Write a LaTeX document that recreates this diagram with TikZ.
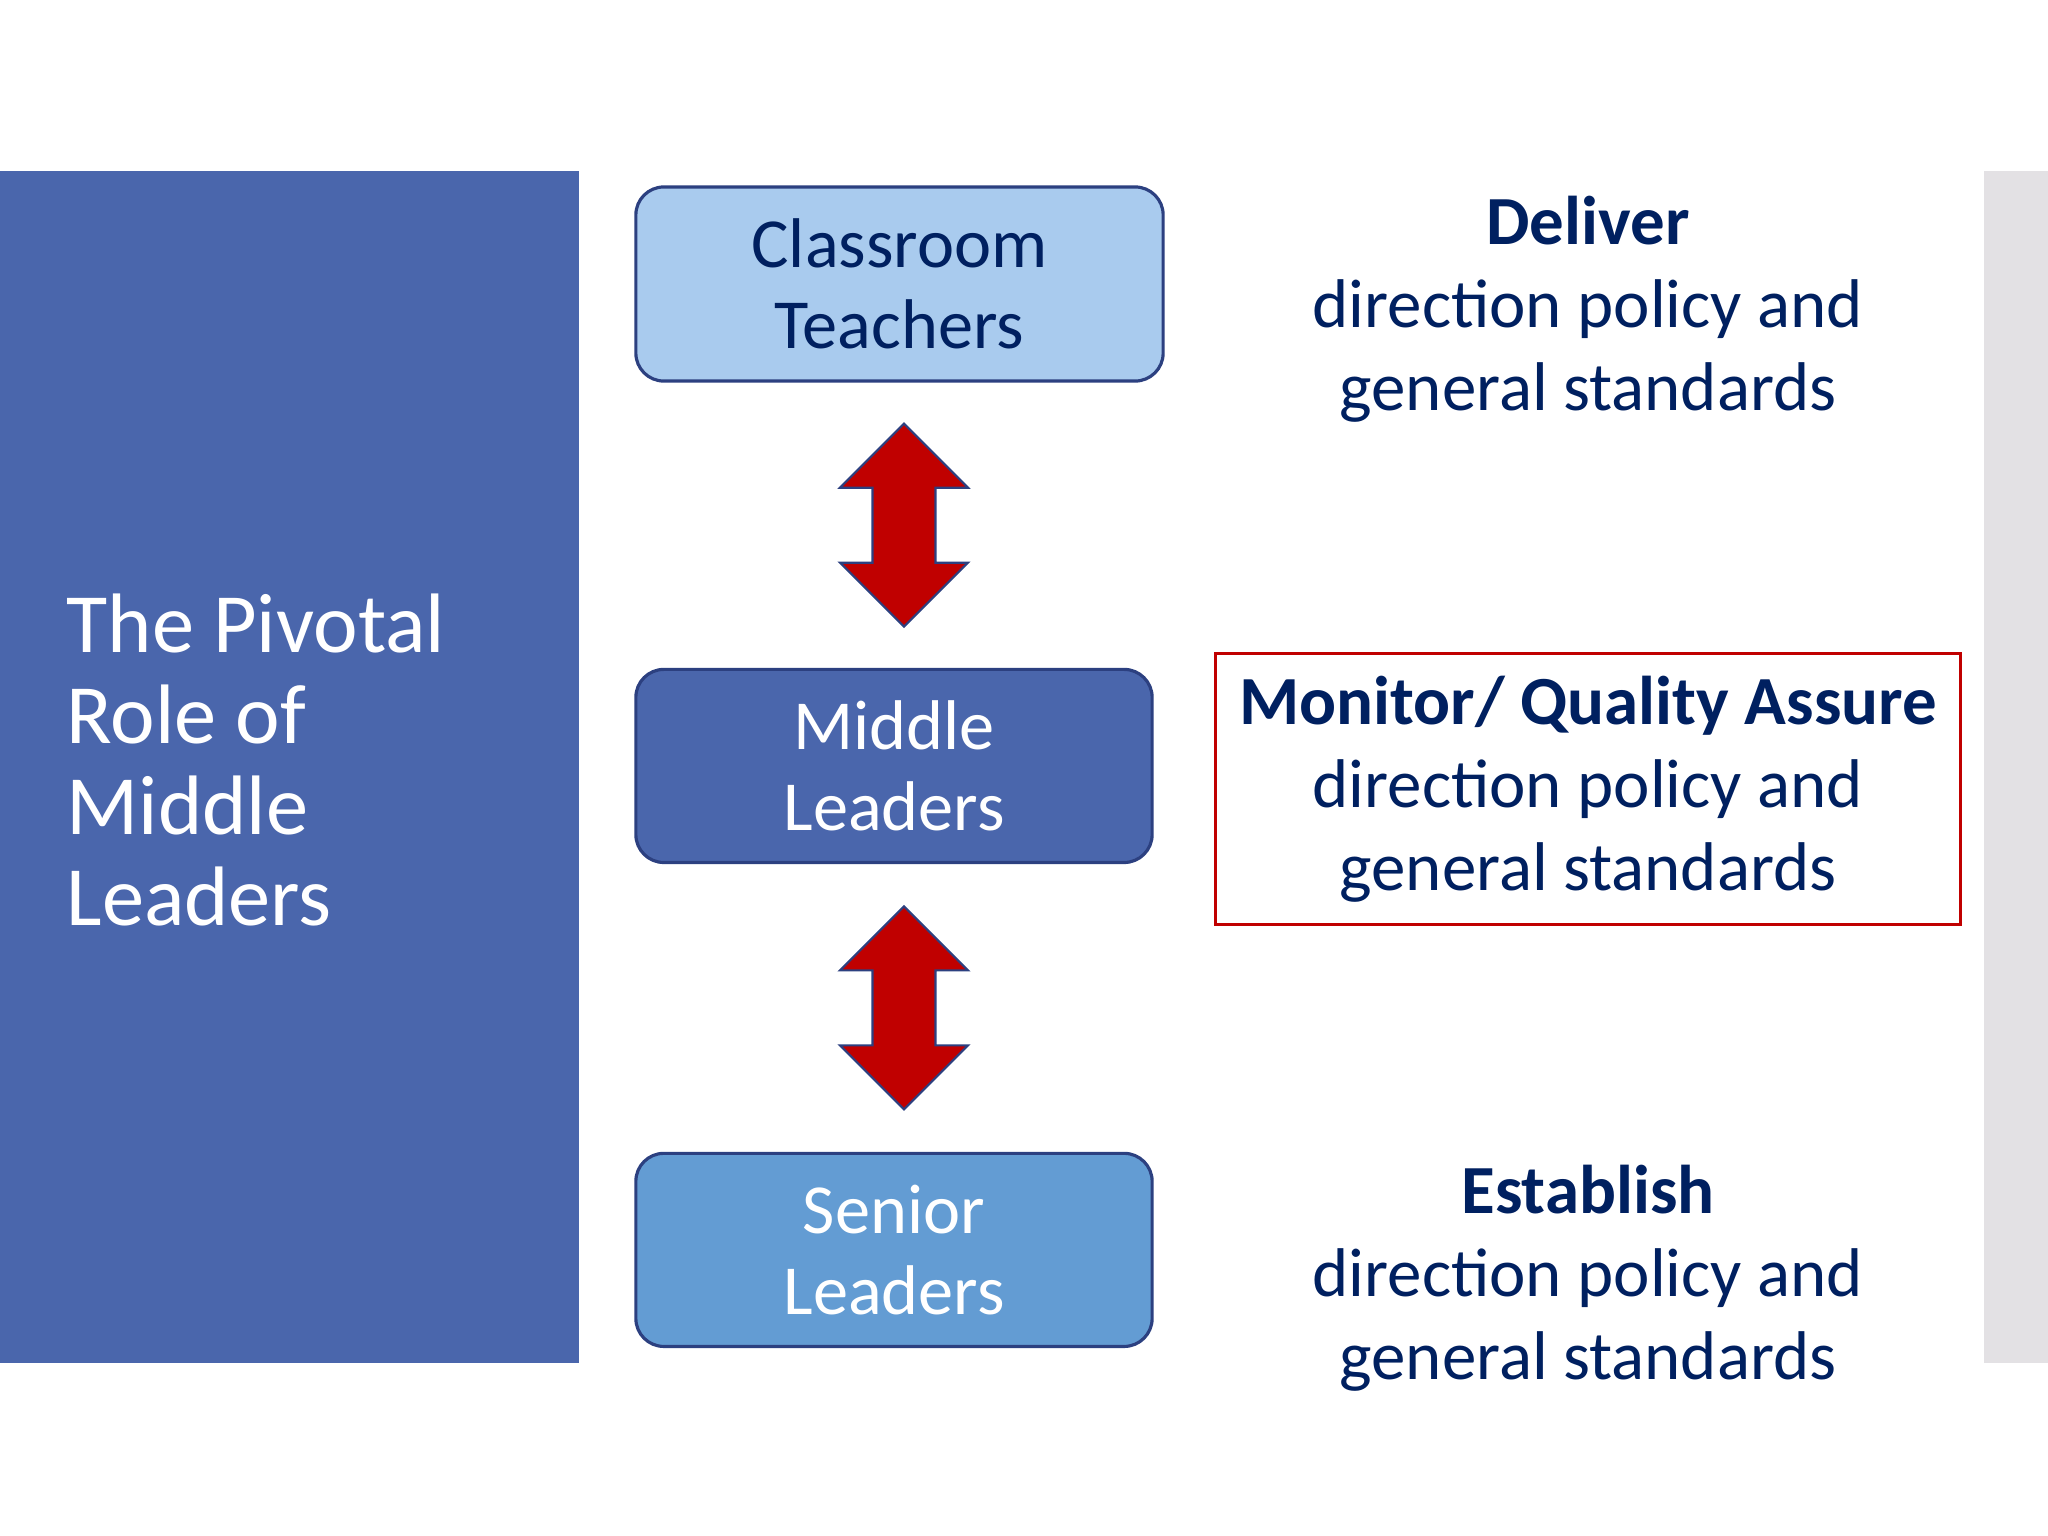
\documentclass[tikz,border=0pt]{standalone}
\usepackage{fontspec}
\setmainfont{Carlito}
\usetikzlibrary{positioning,calc}
\definecolor{panelblue}{RGB}{74,102,172}
\definecolor{paleblue}{RGB}{169,203,238}
\definecolor{midblue}{RGB}{99,156,211}
\definecolor{edgeblue}{RGB}{44,64,128}
\definecolor{navy}{RGB}{0,32,96}
\definecolor{darkred}{RGB}{192,0,0}
\definecolor{stripgray}{RGB}{227,225,228}

\begin{document}
\begin{tikzpicture}[x=0.01cm,y=-0.01cm,
  tier/.style={draw=edgeblue,line width=0.9pt,rounded corners=0.28cm,minimum width=5.16cm,minimum height=1.93cm,align=center,font=\fontsize{20}{23}\selectfont},
  role/.style={text=navy,align=center,font=\fontsize{19.6}{23.6}\selectfont},
  dblarrow/.pic={\draw[fill=darkred,draw=edgeblue,line width=0.6pt] (0,-101.5) -- (64,-37.5) -- (31.5,-37.5) -- (31.5,37.5) -- (64,37.5) -- (0,101.5) -- (-64,37.5) -- (-31.5,37.5) -- (-31.5,-37.5) -- (-64,-37.5) -- cycle;}]
  \fill[white] (0,0) rectangle (2048,1536);
  \useasboundingbox (0,0) rectangle (2048,1536);
  % side panels
  \fill[panelblue] (0,171) rectangle (579,1363);
  \fill[stripgray] (1984,171) rectangle (2048,1363);
  \node[anchor=west,text=white,align=left,inner sep=0pt,font=\fontsize{24}{25.9}\selectfont] (title) at (66,760) {The Pivotal\\Role of\\Middle\\Leaders};
  % the three tiers
  \node[tier,fill=paleblue,text=navy,minimum width=5.27cm,minimum height=1.94cm] (teach) at (899.5,284) {Classroom\\Teachers};
  \node[tier,fill=panelblue,text=white,below=2.85cm of teach,xshift=-0.055cm] (mid) {Middle\\Leaders};
  \node[tier,fill=midblue,text=white,below=2.875cm of mid] (senior) {Senior\\Leaders};
  \pic at ($(teach.south)!0.5!(mid.north)+(7.25,0)$) {dblarrow};
  \pic at ($(mid.south)!0.5!(senior.north)+(10,0)$) {dblarrow};
  % what each tier does
  \node[role] (deliver) at (1588,309) {\textbf{Deliver}\\direction policy and\\general standards};
  \node[role,draw=darkred,line width=0.85pt,minimum width=7.44cm,minimum height=2.71cm] (monitor) at (1588,789) {\textbf{Monitor/ Quality Assure}\\direction policy and\\general standards};
  \node[role] (establish) at (1588,1278.5) {\textbf{Establish}\\direction policy and\\general standards};
\end{tikzpicture}
\end{document}
